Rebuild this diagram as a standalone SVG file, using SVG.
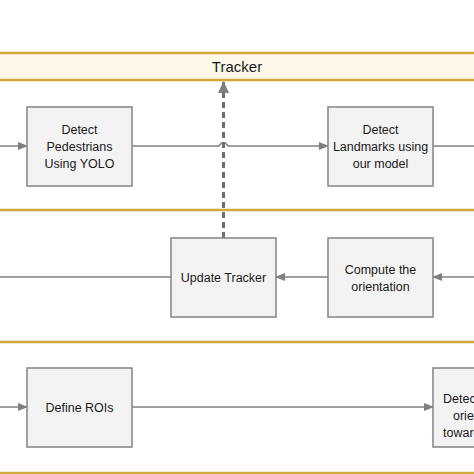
<svg xmlns="http://www.w3.org/2000/svg" width="474" height="474" viewBox="0 0 474 474">
<defs>
<marker id="arr" markerWidth="10" markerHeight="10" refX="9" refY="5" orient="auto" markerUnits="userSpaceOnUse">
<path d="M0,1 L10,5 L0,9 Z" fill="#7f7f7f"/>
</marker>
<marker id="arrBig" markerWidth="12" markerHeight="12" refX="11" refY="6" orient="auto" markerUnits="userSpaceOnUse">
<path d="M0,0.5 L12,6 L0,11.5 Z" fill="#7f7f7f"/>
</marker>
</defs>
<style>
.lane{stroke:#cfa93a;stroke-width:2.5;fill:none}
.box{fill:#f3f3f3;stroke:#8a8a8a;stroke-width:1.6}
.t{font-family:"Liberation Sans",Arial,sans-serif;font-size:12.5px;fill:#1a1a1a;text-anchor:middle}
.c{stroke:#808080;stroke-width:1.5;fill:none}
</style>
<rect width="474" height="474" fill="#ffffff"/>
<g id="lanes">
<rect x="0" y="53" width="474" height="27" fill="#fdf8e8"/>
<line class="lane" x1="0" y1="53" x2="474" y2="53"/>
<line class="lane" x1="0" y1="80" x2="474" y2="80"/>
<line class="lane" x1="0" y1="210" x2="474" y2="210"/>
<line class="lane" x1="0" y1="342" x2="474" y2="342"/>
<line class="lane" x1="0" y1="473" x2="474" y2="473"/>
<text x="237" y="72" font-family="Liberation Sans,Arial,sans-serif" font-size="15" fill="#1a1a1a" text-anchor="middle">Tracker</text>
</g>
<g id="connectors">
<line class="c" x1="0" y1="146" x2="27" y2="146" marker-end="url(#arr)"/>
<path class="c" d="M132,146 H219 Q223.5,139 228,146 H328" marker-end="url(#arr)"/>
<line class="c" x1="433" y1="146" x2="474" y2="146"/>
<line class="c" x1="474" y1="277" x2="433" y2="277" marker-end="url(#arr)"/>
<line class="c" x1="328" y1="277" x2="276" y2="277" marker-end="url(#arr)"/>
<line class="c" x1="171" y1="277" x2="0" y2="277"/>
<line x1="223.5" y1="238" x2="223.5" y2="82" stroke="#6f6f6f" stroke-width="3" stroke-dasharray="6,4" marker-end="url(#arrBig)"/>
<line class="c" x1="0" y1="407" x2="27" y2="407" marker-end="url(#arr)"/>
<line class="c" x1="132" y1="407" x2="433" y2="407" marker-end="url(#arr)"/>
</g>
<g id="pedestrians">
<rect class="box" x="27" y="107" width="105" height="79"/>
<text class="t" x="79.5" y="134">Detect</text>
<text class="t" x="79.5" y="151">Pedestrians</text>
<text class="t" x="79.5" y="168">Using YOLO</text>
</g>
<g id="landmarks">
<rect class="box" x="328" y="107" width="105" height="79"/>
<text class="t" x="380.5" y="134">Detect</text>
<text class="t" x="380.5" y="151">Landmarks using</text>
<text class="t" x="380.5" y="168">our model</text>
</g>
<g id="update">
<rect class="box" x="171" y="238" width="105" height="79"/>
<text class="t" x="223.5" y="282">Update Tracker</text>
</g>
<g id="compute">
<rect class="box" x="328" y="238" width="105" height="79"/>
<text class="t" x="380.5" y="274">Compute the</text>
<text class="t" x="380.5" y="291">orientation</text>
</g>
<g id="rois">
<rect class="box" x="27" y="368" width="105" height="79"/>
<text class="t" x="79.5" y="412">Define ROIs</text>
</g>
<g id="orientation">
<rect class="box" x="433" y="368" width="105" height="79"/>
<text class="t" x="443" y="403" style="text-anchor:start">Detect</text>
<text class="t" x="453" y="420" style="text-anchor:start">orientation</text>
<text class="t" x="443" y="437" style="text-anchor:start">towards</text>
</g>
</svg>
